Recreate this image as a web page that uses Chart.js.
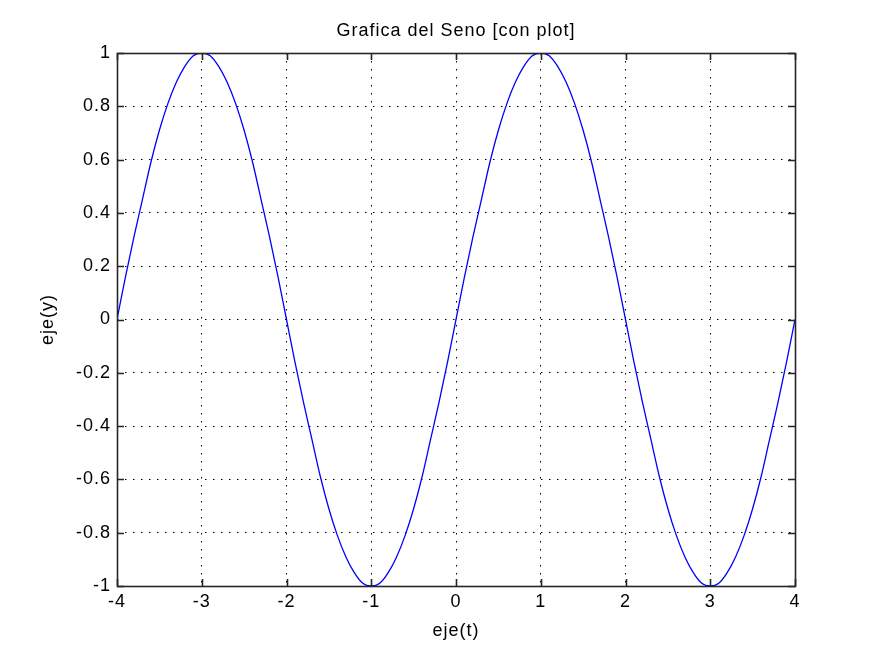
<!DOCTYPE html>
<html>
<head>
<meta charset="utf-8">
<script src="https://cdn.jsdelivr.net/npm/chart.js@4.4.1/dist/chart.umd.min.js"></script>
<style>
  html, body { margin: 0; padding: 0; background: #fff; }
  #wrap { width: 879px; height: 660px; }
</style>
</head>
<body>
<div id="wrap"><canvas id="chart"></canvas></div>
<script>
// valores
const tValues = [
  -4, -3.9, -3.8, -3.7, -3.6, -3.5, -3.4, -3.3, -3.2, -3.1,
  -3, -2.9, -2.8, -2.7, -2.6, -2.5, -2.4, -2.3, -2.2, -2.1,
  -2, -1.9, -1.8, -1.7, -1.6, -1.5, -1.4, -1.3, -1.2, -1.1,
  -1, -0.9, -0.8, -0.7, -0.6, -0.5, -0.4, -0.3, -0.2, -0.1,
  0, 0.1, 0.2, 0.3, 0.4, 0.5, 0.6, 0.7, 0.8, 0.9,
  1, 1.1, 1.2, 1.3, 1.4, 1.5, 1.6, 1.7, 1.8, 1.9,
  2, 2.1, 2.2, 2.3, 2.4, 2.5, 2.6, 2.7, 2.8, 2.9,
  3, 3.1, 3.2, 3.3, 3.4, 3.5, 3.6, 3.7, 3.8, 3.9,
  4
];
const yValues = [
  0, 0.16, 0.31, 0.45, 0.59, 0.71, 0.81, 0.89, 0.95, 0.99,
  1, 0.99, 0.95, 0.89, 0.81, 0.71, 0.59, 0.45, 0.31, 0.16,
  0, -0.16, -0.31, -0.45, -0.59, -0.71, -0.81, -0.89, -0.95, -0.99,
  -1, -0.99, -0.95, -0.89, -0.81, -0.71, -0.59, -0.45, -0.31, -0.16,
  0, 0.16, 0.31, 0.45, 0.59, 0.71, 0.81, 0.89, 0.95, 0.99,
  1, 0.99, 0.95, 0.89, 0.81, 0.71, 0.59, 0.45, 0.31, 0.16,
  0, -0.16, -0.31, -0.45, -0.59, -0.71, -0.81, -0.89, -0.95, -0.99,
  -1, -0.99, -0.95, -0.89, -0.81, -0.71, -0.59, -0.45, -0.31, -0.16,
  0
];
const xTicks = [-4, -3, -2, -1, 0, 1, 2, 3, 4];
const xTickLabels = ['-4', '-3', '-2', '-1', '0', '1', '2', '3', '4'];
const yTicks = [-1, -0.8, -0.6, -0.4, -0.2, 0, 0.2, 0.4, 0.6, 0.8, 1];
const yTickLabels = ['-1', '-0.8', '-0.6', '-0.4', '-0.2', '0', '0.2', '0.4', '0.6', '0.8', '1'];

const FONT = 'Liberation Sans, Arial, sans-serif';
const SIZE = 18;

// letras un poco separadas como en la figura original
const spacingPlugin = {
  id: 'spacing',
  beforeUpdate(chart) { chart.ctx.letterSpacing = '1px'; },
  beforeDraw(chart) { chart.ctx.letterSpacing = '1px'; }
};

// marco completo y marcas hacia dentro (estilo matlab)
const boxPlugin = {
  id: 'box',
  afterDraw(chart) {
    const { ctx, chartArea: a, scales } = chart;
    ctx.save();
    ctx.strokeStyle = '#262626';
    ctx.lineWidth = 1.6;
    ctx.beginPath();
    for (const v of xTicks) {
      const px = Math.round(scales.x.getPixelForValue(v)) + 0.5;
      ctx.moveTo(px, a.bottom); ctx.lineTo(px, a.bottom - 7);
      ctx.moveTo(px, a.top); ctx.lineTo(px, a.top + 7);
    }
    for (const v of yTicks) {
      const py = Math.round(scales.y.getPixelForValue(v)) + 0.5;
      ctx.moveTo(a.left, py); ctx.lineTo(a.left + 7, py);
      ctx.moveTo(a.right, py); ctx.lineTo(a.right - 7, py);
    }
    ctx.stroke();
    ctx.strokeRect(Math.round(a.left) + 0.5, Math.round(a.top) + 0.5,
      Math.round(a.right - a.left), Math.round(a.bottom - a.top));
    ctx.restore();
  }
};

document.addEventListener('DOMContentLoaded', function () {
  const ctx = document.getElementById('chart').getContext('2d');
  new Chart(ctx, {
    type: 'line',
    data: {
      datasets: [{
        data: tValues.map((t, i) => ({ x: t, y: yValues[i] })),
        borderColor: '#0000ff',
        borderWidth: 1.3,
        pointRadius: 0,
        cubicInterpolationMode: 'monotone',
        fill: false
      }]
    },
    options: {
      responsive: true,
      maintainAspectRatio: false,
      animation: false,
      layout: { padding: { top: 0, right: 84, bottom: 0, left: 0 } },
      plugins: {
        legend: { display: false },
        tooltip: { enabled: false }
      },
      scales: {
        x: {
          type: 'linear',
          min: -4, max: 4,
          afterFit(scale) { scale.height = 74; },
          afterBuildTicks(scale) { scale.ticks = xTicks.map(v => ({ value: v })); },
          ticks: {
            color: '#000',
            font: { family: FONT, size: SIZE },
            padding: 5,
            maxRotation: 0,
            callback: (v, i) => xTickLabels[i]
          },
          grid: {
            color: '#000',
            lineWidth: 1,
            drawTicks: false
          },
          border: { display: false, dash: [1.5, 6.5] },
          title: {
            display: true,
            text: 'eje(t)',
            color: '#000',
            font: { family: FONT, size: SIZE },
            padding: { top: 0, bottom: 18 }
          }
        },
        // eje superior solo para el titulo, centrado sobre el area de la grafica
        top: {
          type: 'linear',
          position: 'top',
          min: -4, max: 4,
          afterFit(scale) { scale.height = 53; },
          ticks: { display: false },
          grid: { display: false },
          border: { display: false },
          title: {
            display: true,
            text: 'Grafica del Seno [con plot]',
            color: '#000',
            font: { family: FONT, size: SIZE },
            padding: { top: 20.5, bottom: 0 }
          }
        },
        y: {
          type: 'linear',
          min: -1, max: 1,
          afterFit(scale) { scale.width = 117; },
          afterBuildTicks(scale) { scale.ticks = yTicks.map(v => ({ value: v })); },
          ticks: {
            color: '#000',
            font: { family: FONT, size: SIZE },
            padding: 6,
            callback: (v, i) => yTickLabels[i]
          },
          grid: {
            color: '#000',
            lineWidth: 1,
            drawTicks: false
          },
          border: { display: false, dash: [1.5, 6.5] },
          title: {
            display: true,
            text: 'eje(y)',
            color: '#000',
            font: { family: FONT, size: SIZE },
            padding: { top: 37, bottom: 0 }
          }
        }
      }
    },
    plugins: [spacingPlugin, boxPlugin]
  });
});
</script>
</body>
</html>
